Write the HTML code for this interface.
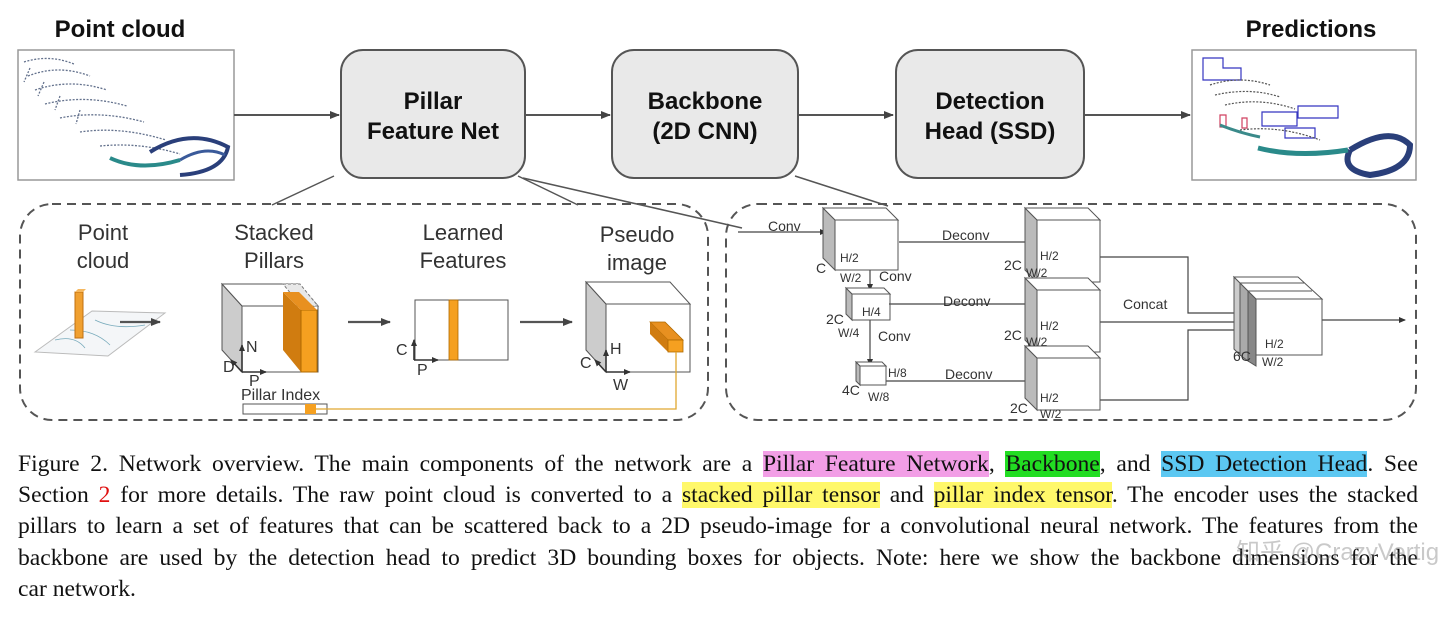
<!DOCTYPE html>
<html><head><meta charset="utf-8">
<style>
html,body{margin:0;padding:0;background:#fff;width:1440px;height:617px;overflow:hidden;position:relative}
svg{position:absolute;left:0;top:0}
.cap{position:absolute;left:18px;width:1400px;font-family:"Liberation Serif",serif;font-size:23.6px;color:#111;white-space:nowrap}
.j{text-align:justify;text-align-last:justify;white-space:normal}
.pk{background:#f29ee6}.gr{background:#22dd22}.bl{background:#5cc8f2}.yl{background:#fff86a}
.wm{position:absolute;left:1236px;top:532px;white-space:nowrap;font-family:"Liberation Sans","Noto Sans CJK SC",sans-serif;font-size:24px;color:rgba(120,120,120,0.4)}
</style></head><body>
<svg width="1440" height="617" viewBox="0 0 1440 617" font-family="Liberation Sans, sans-serif">
<defs>
<marker id="a" markerWidth="10" markerHeight="10" refX="9" refY="5" orient="auto" markerUnits="userSpaceOnUse"><path d="M0,1 L10,5 L0,9 Z" fill="#444"/></marker>
<marker id="s" markerWidth="7" markerHeight="7" refX="6" refY="3.5" orient="auto" markerUnits="userSpaceOnUse"><path d="M0,0.5 L7,3.5 L0,6.5 Z" fill="#333"/></marker>
</defs>
<text x="120" y="37" font-size="24" font-weight="bold" text-anchor="middle" fill="#111">Point cloud</text>
<text x="1311" y="37" font-size="24" font-weight="bold" text-anchor="middle" fill="#111">Predictions</text>
<rect x="18" y="50" width="216" height="130" fill="#fff" stroke="#999" stroke-width="1.5"/>
<g fill="none" stroke="#4a5a7a" stroke-width="1.3" opacity="0.85" stroke-dasharray="2,1.5">
<path d="M24,62 q25,-8 50,2 M28,76 q30,-12 62,0 M35,90 q35,-12 72,0 M45,104 q40,-10 82,2 M60,118 q40,-8 84,4 M80,132 q40,-6 86,8 M100,146 q40,-4 80,8"/>
<path d="M30,68 l-6,14 M44,82 l-6,14 M60,96 l-5,14 M80,110 l-4,14"/>
</g>
<g fill="none">
<path d="M150,152 q40,-25 78,-5 q-5,25 -48,28" stroke="#2a3f7a" stroke-width="4"/>
<path d="M110,158 q30,14 70,2" stroke="#2a8a8a" stroke-width="4"/>
<path d="M180,160 q25,-15 45,-5" stroke="#3a5a9a" stroke-width="3"/>
</g>
<rect x="1192" y="50" width="224" height="130" fill="#fff" stroke="#999" stroke-width="1.5"/>
<g fill="none" stroke-width="1.2">
<path d="M1203,58 h20 v10 h18 v12 h-38z M1262,112 h35 v14 h-35z M1298,106 h40 v12 h-40z M1285,128 h30 v10 h-30z" stroke="#3535c0"/>
<path d="M1220,115 h6 v12 h-6z M1242,118 h5 v10 h-5z" stroke="#d04060"/>
<path d="M1210,85 q30,-10 60,0 M1215,95 q35,-8 65,2 M1225,105 q35,-8 70,4 M1240,130 q40,-5 80,10" stroke="#555" stroke-dasharray="2,1.5"/>
<path d="M1350,150 q40,-25 60,-5 q0,25 -40,30 q-30,-5 -20,-25" stroke="#2a3f7a" stroke-width="6"/>
<path d="M1258,148 q40,10 90,2" stroke="#2a8a8a" stroke-width="5"/>
<path d="M1220,125 q20,8 40,12" stroke="#3a8a8a" stroke-width="3"/>
</g>
<g stroke="#555" stroke-width="2" fill="none">
<line x1="234" y1="115" x2="339" y2="115" marker-end="url(#a)"/>
<line x1="525" y1="115" x2="610" y2="115" marker-end="url(#a)"/>
<line x1="798" y1="115" x2="893" y2="115" marker-end="url(#a)"/>
<line x1="1084" y1="115" x2="1190" y2="115" marker-end="url(#a)"/>
<line x1="334" y1="176" x2="272" y2="205" stroke-width="1.5"/>
<line x1="518" y1="176" x2="578" y2="205" stroke-width="1.5"/>
<line x1="523" y1="178" x2="742" y2="228" stroke-width="1.5"/>
<line x1="795" y1="176" x2="888" y2="206" stroke-width="1.5"/>
</g>
<g fill="#e9e9e9" stroke="#555" stroke-width="2">
<rect x="341" y="50" width="184" height="128" rx="22"/>
<rect x="612" y="50" width="186" height="128" rx="22"/>
<rect x="896" y="50" width="188" height="128" rx="22"/>
</g>
<g font-size="24" font-weight="bold" text-anchor="middle" fill="#111">
<text x="433" y="109">Pillar</text><text x="433" y="139">Feature Net</text>
<text x="705" y="109">Backbone</text><text x="705" y="139">(2D CNN)</text>
<text x="990" y="109">Detection</text><text x="990" y="139">Head (SSD)</text>
</g>
<rect x="20" y="204" width="688" height="216" rx="32" fill="none" stroke="#555" stroke-width="2" stroke-dasharray="9,6"/>
<rect x="726" y="204" width="690" height="216" rx="32" fill="none" stroke="#555" stroke-width="2" stroke-dasharray="9,6"/>
<g font-size="22" text-anchor="middle" fill="#333">
<text x="103" y="240">Point</text><text x="103" y="268">cloud</text>
<text x="274" y="240">Stacked</text><text x="274" y="268">Pillars</text>
<text x="463" y="240">Learned</text><text x="463" y="268">Features</text>
<text x="637" y="242">Pseudo</text><text x="637" y="270">image</text>
</g>
<polygon points="35,352 92,311 165,313 108,356" fill="#f4f6f8" stroke="#bbb"/>
<path d="M55,340 q20,-5 30,8 M70,330 q25,0 40,15 M95,320 q20,10 50,5" stroke="#7ab" fill="none" stroke-width="0.8"/>
<rect x="75" y="292" width="8" height="46" fill="#f0a030" stroke="#c07010" stroke-width="1"/>
<polygon points="75,292 78,289 86,289 83,292" fill="#f5b860"/>
<g stroke="#555" stroke-width="2.2">
<line x1="120" y1="322" x2="160" y2="322" marker-end="url(#a)"/>
<line x1="348" y1="322" x2="390" y2="322" marker-end="url(#a)"/>
<line x1="520" y1="322" x2="572" y2="322" marker-end="url(#a)"/>
</g>
<polygon points="222,284 242,306 242,372 222,350" fill="#ccc" stroke="#555"/>
<polygon points="222,284 298,284 318,306 242,306" fill="#fff" stroke="#555"/>
<rect x="242" y="306" width="76" height="66" fill="#fff" stroke="#555"/>
<line x1="298" y1="284" x2="318" y2="306" stroke="#555"/>
<polygon points="283,284 300,284 318,306 301,306" fill="#e8e8e8" stroke="#777" stroke-dasharray="3,2"/>
<polygon points="283,292 301,310 301,372 283,350" fill="#d07c10"/>
<rect x="301" y="310" width="16" height="62" fill="#f5a020" stroke="#b06a00"/>
<polygon points="283,292 299,292 317,310 301,310" fill="#e89020"/>
<g stroke="#333" stroke-width="1.6">
<line x1="242" y1="372" x2="242" y2="345" marker-end="url(#s)"/>
<line x1="242" y1="372" x2="266" y2="372" marker-end="url(#s)"/>
<line x1="242" y1="372" x2="231" y2="360" marker-end="url(#s)"/>
</g>
<g font-size="16" fill="#333"><text x="223" y="372">D</text><text x="246" y="352">N</text><text x="249" y="386">P</text></g>
<rect x="415" y="300" width="93" height="60" fill="#fff" stroke="#555"/>
<rect x="449" y="300" width="9" height="60" fill="#f5a020" stroke="#b06a00" stroke-width="0.8"/>
<g stroke="#333" stroke-width="1.6">
<line x1="414" y1="360" x2="414" y2="340" marker-end="url(#s)"/>
<line x1="414" y1="360" x2="438" y2="360" marker-end="url(#s)"/>
</g>
<g font-size="16" fill="#333"><text x="396" y="355">C</text><text x="417" y="375">P</text></g>
<polygon points="586,282 606,304 606,372 586,350" fill="#ccc" stroke="#555"/>
<polygon points="586,282 670,282 690,304 606,304" fill="#fff" stroke="#555"/>
<rect x="606" y="304" width="84" height="68" fill="#fff" stroke="#555"/>
<polygon points="650,322 668,340 683,340 665,322" fill="#e89020" stroke="#b06a00" stroke-width="0.8"/>
<polygon points="650,322 668,340 668,352 650,334" fill="#d07c10"/>
<rect x="668" y="340" width="15" height="12" fill="#f5a020" stroke="#b06a00" stroke-width="0.8"/>
<g stroke="#333" stroke-width="1.6">
<line x1="606" y1="372" x2="606" y2="350" marker-end="url(#s)"/>
<line x1="606" y1="372" x2="630" y2="372" marker-end="url(#s)"/>
<line x1="606" y1="372" x2="595" y2="360" marker-end="url(#s)"/>
</g>
<g font-size="16" fill="#333"><text x="580" y="368">C</text><text x="610" y="354">H</text><text x="613" y="390">W</text></g>
<text x="241" y="400" font-size="16" fill="#333">Pillar Index</text>
<rect x="243" y="404" width="84" height="10" fill="#fff" stroke="#555"/>
<rect x="305" y="404" width="11" height="10" fill="#f5a020"/>
<polyline points="316,409 676,409 676,352" fill="none" stroke="#e0a830" stroke-width="1.3"/>
<g stroke="#444" stroke-width="1.2" fill="none">
<line x1="738" y1="232" x2="826" y2="232" marker-end="url(#s)"/>
<line x1="899" y1="242" x2="1031" y2="242" marker-end="url(#s)"/>
<line x1="889" y1="304" x2="1031" y2="304" marker-end="url(#s)"/>
<line x1="886" y1="381" x2="1031" y2="381" marker-end="url(#s)"/>
<line x1="870" y1="270" x2="870" y2="290" marker-end="url(#s)"/>
<line x1="870" y1="320" x2="870" y2="365" marker-end="url(#s)"/>
<polyline points="1100,257 1188,257 1188,313 1242,313" marker-end="url(#s)"/>
<line x1="1100" y1="322" x2="1245" y2="322" marker-end="url(#s)"/>
<polyline points="1100,400 1188,400 1188,330 1252,330" marker-end="url(#s)"/>
<line x1="1322" y1="320" x2="1405" y2="320" marker-end="url(#s)"/>
</g>
<g stroke="#555" stroke-width="1">
<polygon points="823,208 835,220 835,270 823,258" fill="#bbb"/>
<polygon points="823,208 886,208 898,220 835,220" fill="#fff"/>
<rect x="835" y="220" width="63" height="50" fill="none"/>
<polygon points="846,288 852,294 852,320 846,314" fill="#bbb"/>
<polygon points="846,288 884,288 890,294 852,294" fill="#fff"/>
<rect x="852" y="294" width="38" height="26" fill="none"/>
<polygon points="856,362 860,366 860,385 856,381" fill="#bbb"/>
<polygon points="856,362 882,362 886,366 860,366" fill="#fff"/>
<rect x="860" y="366" width="26" height="19" fill="none"/>
<polygon points="1025,208 1037,220 1037,282 1025,270" fill="#bbb"/>
<polygon points="1025,208 1088,208 1100,220 1037,220" fill="#fff"/>
<rect x="1037" y="220" width="63" height="62" fill="none"/>
<polygon points="1025,278 1037,290 1037,352 1025,340" fill="#bbb"/>
<polygon points="1025,278 1088,278 1100,290 1037,290" fill="#fff"/>
<rect x="1037" y="290" width="63" height="62" fill="none"/>
<polygon points="1025,346 1037,358 1037,410 1025,398" fill="#bbb"/>
<polygon points="1025,346 1088,346 1100,358 1037,358" fill="#fff"/>
<rect x="1037" y="358" width="63" height="52" fill="none"/>
<polygon points="1234,277 1240,283 1240,355 1234,349" fill="#ccc"/>
<polygon points="1240,283 1248,291 1248,361 1240,355" fill="#aaa"/>
<polygon points="1248,291 1256,299 1256,366 1248,361" fill="#888"/>
<polygon points="1234,277 1298,277 1322,299 1256,299" fill="#fff"/>
<line x1="1240" y1="283" x2="1304" y2="283"/><line x1="1248" y1="291" x2="1312" y2="291"/>
<rect x="1256" y="299" width="66" height="56" fill="none"/>
</g>
<g font-size="14" fill="#333">
<text x="768" y="231">Conv</text>
<text x="942" y="240">Deconv</text><text x="943" y="306">Deconv</text><text x="945" y="379">Deconv</text>
<text x="1123" y="309">Concat</text>
<text x="879" y="281">Conv</text><text x="878" y="341">Conv</text>
<text x="816" y="273">C</text><text x="840" y="262" font-size="12">H/2</text><text x="840" y="282" font-size="12">W/2</text>
<text x="826" y="324">2C</text><text x="862" y="316" font-size="12">H/4</text><text x="838" y="337" font-size="12">W/4</text>
<text x="842" y="395">4C</text><text x="888" y="377" font-size="12">H/8</text><text x="868" y="401" font-size="12">W/8</text>
<text x="1004" y="270">2C</text><text x="1040" y="260" font-size="12">H/2</text><text x="1026" y="277" font-size="12">W/2</text>
<text x="1004" y="340">2C</text><text x="1040" y="330" font-size="12">H/2</text><text x="1026" y="346" font-size="12">W/2</text>
<text x="1010" y="413">2C</text><text x="1040" y="402" font-size="12">H/2</text><text x="1040" y="418" font-size="12">W/2</text>
<text x="1233" y="361">6C</text><text x="1265" y="348" font-size="12">H/2</text><text x="1262" y="366" font-size="12">W/2</text>
</g>
</svg>
<div class="cap j" style="top:451px">Figure 2. Network overview. The main components of the network are a <span class="pk">Pillar Feature Network</span>, <span class="gr">Backbone</span>, and <span class="bl">SSD Detection Head</span>. See</div>
<div class="cap j" style="top:482px">Section <span style="color:#e01010">2</span> for more details. The raw point cloud is converted to a <span class="yl">stacked pillar tensor</span> and <span class="yl">pillar index tensor</span>. The encoder uses the stacked</div>
<div class="cap j" style="top:513px">pillars to learn a set of features that can be scattered back to a 2D pseudo-image for a convolutional neural network. The features from the</div>
<div class="cap j" style="top:545px">backbone are used by the detection head to predict 3D bounding boxes for objects. Note: here we show the backbone dimensions for the</div>
<div class="cap" style="top:576px">car network.</div>
<div class="wm">知乎 @CrazyVertigo</div>
</body></html>
